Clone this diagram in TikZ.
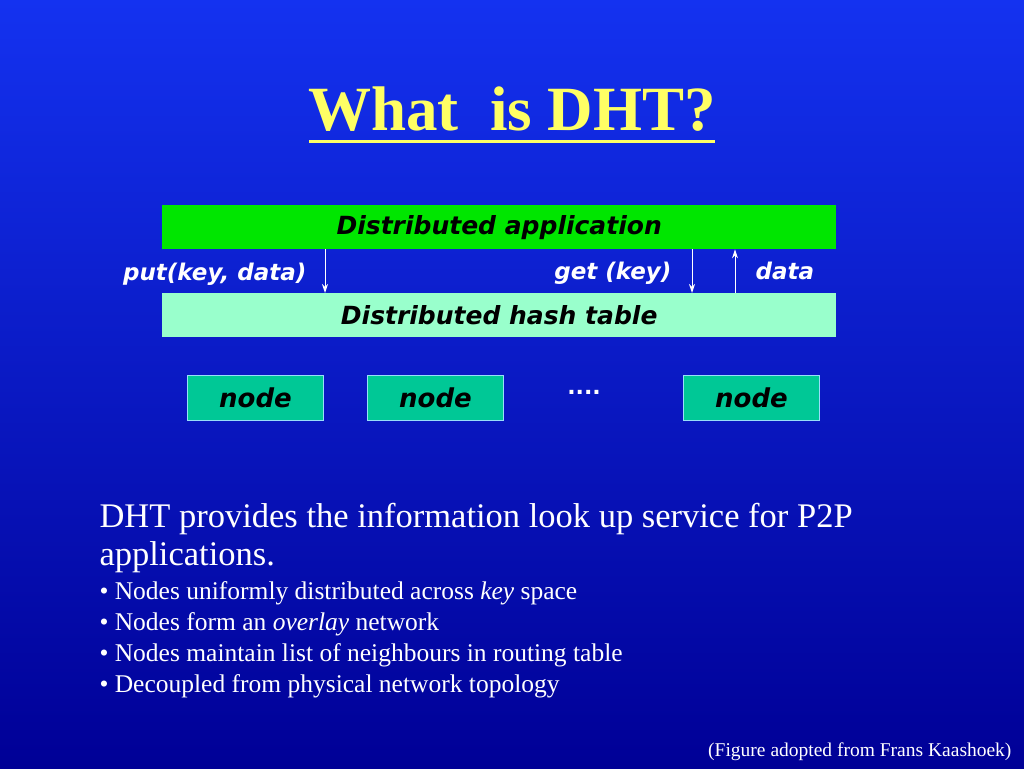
\documentclass[tikz,border=0pt]{standalone}
\usepackage{fontspec}
\setmainfont{Liberation Serif}
\newfontfamily\verd{DejaVu Sans}
\usetikzlibrary{positioning,arrows.meta}
\definecolor{bgtop}{RGB}{20,50,240}
\definecolor{bgbot}{RGB}{0,0,150}
\definecolor{appgreen}{RGB}{0,230,0}
\definecolor{dhtgreen}{RGB}{153,255,204}
\definecolor{nodeteal}{RGB}{0,200,150}
\definecolor{titleyellow}{RGB}{255,255,100}
\tikzset{
  layer/.style={minimum width=674pt, minimum height=44pt, inner sep=0pt,
    font=\verd\bfseries\itshape\fontsize{25}{30}\selectfont},
  peer/.style={fill=nodeteal, draw=cyan!40, line width=1pt, minimum width=136pt,
    minimum height=45pt, inner sep=0pt, font=\verd\bfseries\itshape\fontsize{26}{30}\selectfont},
  call/.style={text=white, font=\verd\bfseries\itshape\fontsize{23}{28}\selectfont},
  msg/.style={white, line width=1pt, -{Stealth[length=9pt,width=6pt]}},
  bullet/.style={anchor=base west, text=white, font=\fontsize{25.5}{30}\selectfont}
}
\begin{document}
\begin{tikzpicture}[x=1pt,y=-1pt]
\shade[top color=bgtop, bottom color=bgbot] (0,0) rectangle (1024,768);
\useasboundingbox (0,0) rectangle (1024,768);

\node[text=titleyellow, font=\bfseries\fontsize{63}{68}\selectfont, anchor=base] (title) at (512,130) {What\ \ is DHT?};
\draw[titleyellow, line width=3pt] (309,141) -- (715,141);

\node[layer, fill=appgreen, anchor=north west] (app) at (162,205) {Distributed application};
\node[layer, fill=dhtgreen, anchor=north west] (dht) at (162,293) {Distributed hash table};

\coordinate (put) at (325,0);
\coordinate (get) at (692,0);
\coordinate (ret) at (735,0);
\draw[msg] (app.south -| put) -- (dht.north -| put);
\draw[msg] (app.south -| get) -- (dht.north -| get);
\draw[msg] (dht.north -| ret) -- (app.south -| ret);
\node[call, anchor=east] (putlbl) at (310,274) {put(key, data)};
\node[call, anchor=east] (getlbl) at (675,273) {get (key)};
\node[call, anchor=west] (datalbl) at (752,271) {data};

\node[peer, anchor=north west] (n1) at (187,375) {node};
\node[peer, anchor=north west] (n2) at (367,375) {node};
\node[peer, anchor=north west] (n3) at (683,375) {node};
\node[text=white, font=\verd\bfseries\fontsize{22}{26}\selectfont] (dots) at (584,392) {....};

\node[bullet, font=\fontsize{34.5}{40}\selectfont] (intro) at (96,527) {DHT provides the information look up service for P2P};
\node[bullet, font=\fontsize{34.5}{40}\selectfont] (intro2) at (96,565) {applications.};
\node[bullet] (b1) at (96,599) {\textbullet\ Nodes uniformly distributed across \textit{key} space};
\node[bullet] (b2) at (96,630) {\textbullet\ Nodes form an \textit{overlay} network};
\node[bullet] (b3) at (96,661) {\textbullet\ Nodes maintain list of neighbours in routing table};
\node[bullet] (b4) at (96,692) {\textbullet\ Decoupled from physical network topology};

\node[anchor=base east, text=white, font=\fontsize{19.5}{22}\selectfont] (credit) at (1015,756) {(Figure adopted from Frans Kaashoek)};
\end{tikzpicture}
\end{document}
